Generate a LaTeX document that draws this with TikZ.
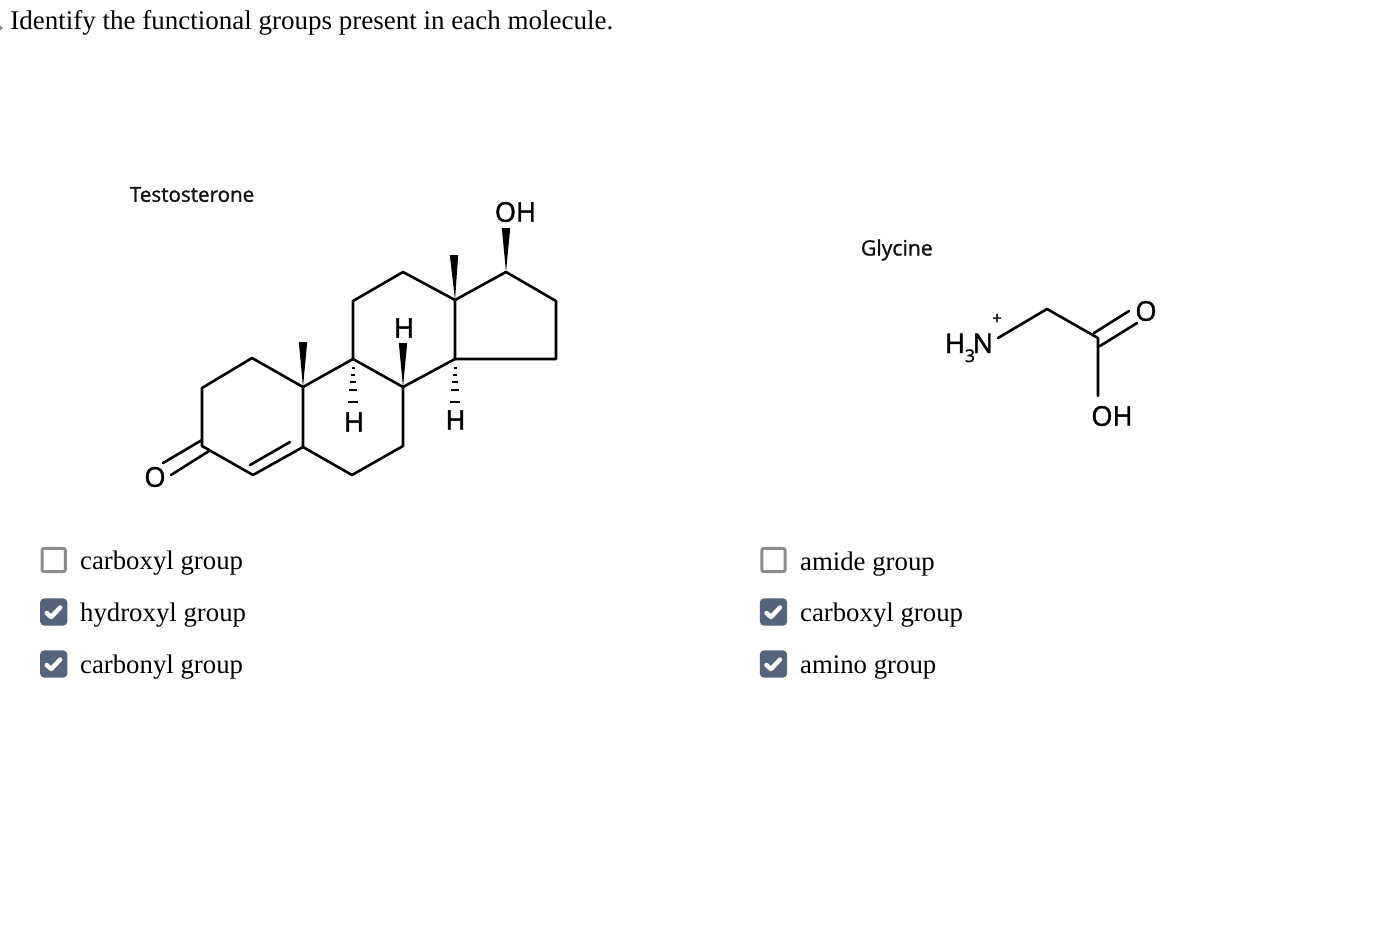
\documentclass[tikz,border=0pt]{standalone}
\usepackage{fontspec}
\setmainfont{Liberation Serif}
\newfontfamily\chem[FakeBold=1.6]{Open Sans}
\newfontfamily\chemname[FakeBold=1.2]{Open Sans}
\definecolor{boxblue}{HTML}{56647B}
\definecolor{boxgray}{HTML}{8C8C8C}
\definecolor{ink}{HTML}{111111}
\tikzset{
  x=0.5pt,y=-0.5pt,
  bond/.style={line width=1.3pt,line cap=round,line join=round,draw=black},
  wedge/.style={fill=black,draw=none},
  hash/.style={line width=1.3pt,draw=black},
  atom/.style={font=\chem\fontsize{13.6}{13.6}\selectfont,inner sep=0pt,text=black},
  molname/.style={inner sep=0pt,text=ink,anchor=west},
  choice/.style={font=\fontsize{13.4}{13.4}\selectfont,inner sep=0pt,anchor=base west,text=black},
  emptybox/.style={draw=boxgray,fill=white,line width=1.5pt,rounded corners=1pt,minimum size=11.6pt,inner sep=0pt},
  fullbox/.style={draw=none,fill=boxblue,rounded corners=2pt,minimum size=13.6pt,inner sep=0pt},
  tick/.style={draw=white,line width=2.2pt,line cap=round,line join=round},
}
\newcommand{\tickin}[1]{\draw[tick] ([shift={(-7,1)}]#1.center) -- ([shift={(-2.5,5)}]#1.center) -- ([shift={(6.5,-4.5)}]#1.center);}
\begin{document}
\begin{tikzpicture}
\useasboundingbox (0,0) rectangle (1382,944);
\fill[white] (0,0) rectangle (1382,944);
\fill[boxgray] (0,25.5) -- (3,28) -- (0,30.5) -- cycle;
\node[inner sep=0pt,anchor=base west,font=\fontsize{13.5}{13.5}\selectfont] (title) at (10,29) {Identify the functional groups present in each molecule.};

% Testosterone
\node[molname,font=\chemname\fontsize{10.3}{10.3}\selectfont] (tname) at (129.5,194.5) {Testosterone};
\foreach \n/\x/\y in {a/202/388,b/252/358,c/303/387,d/303/447,e/253/475,f/202/446,g/353/359,h/403/387,i/403/446,j/352/475,k/353/301,l/403/272,m/455/300,n/455/359,o/506/272,p/556/301,q/556/359,
  ca/303/342,cb/454/255,cc/403/343,cd/506/228,
  f1/202/440,f2/209/451,o1/163/463,o2/171/475,r1/250/465,r2/290/442}
  \coordinate (\n) at (\x,\y);
\draw[bond] (f) -- (a) -- (b) -- (c) -- (d) -- (e) -- (f);
\draw[bond] (c) -- (g) -- (h) -- (i) -- (j) -- (d);
\draw[bond] (g) -- (k) -- (l) -- (m) -- (n) -- (h);
\draw[bond] (m) -- (o) -- (p) -- (q) -- (n);
\draw[bond] (r1) -- (r2);
\draw[bond] (f1) -- (o1);
\draw[bond] (f2) -- (o2);
\fill[wedge] (c) -- ([xshift=-2.1pt]ca) -- ([xshift=2.1pt]ca) -- cycle;
\fill[wedge] (m) -- ([xshift=-2.1pt]cb) -- ([xshift=2.1pt]cb) -- cycle;
\fill[wedge] (h) -- ([xshift=-2.1pt]cc) -- ([xshift=2.1pt]cc) -- cycle;
\fill[wedge] (o) -- ([xshift=-2.1pt]cd) -- ([xshift=2.1pt]cd) -- cycle;
\node[atom] (oket) at (155,477) {O};
\node[atom] (oh) at (515.5,212) {OH};
\node[atom] (h1) at (404,328) {H};
\node[atom] (h2) at (354,422) {H};
\node[atom] (h3) at (455.5,420) {H};
\foreach \xc/\nm in {353/g,455/n}{
  \foreach \yy/\w in {368/1.5,375/2,382/2.8,390/3.6,402/4.6}{
    \draw[hash] ([shift={(-\w,\yy-359)}]\nm) -- ([shift={(\w,\yy-359)}]\nm);
  }
}

% Glycine
\node[molname,font=\chemname\fontsize{10.6}{10.6}\selectfont] (gname) at (860.5,250) {Glycine};
\foreach \n/\x/\y in {s/998/338,t/1047/309,u/1098/338,v/1098/396,u1/1094/333,u2/1100/346,w1/1129/311,w2/1137/323}
  \coordinate (\n) at (\x,\y);
\draw[bond] (s) -- (t) -- (u) -- (v);
\draw[bond] (u1) -- (w1);
\draw[bond] (u2) -- (w2);
\node[atom] (ogl) at (1146,311) {O};
\node[atom] (ohg) at (1112,416) {OH};
\node[atom,anchor=base west] (nh) at (944.5,353) {H\raisebox{-4.5pt}{\fontsize{8.8}{8.8}\selectfont 3}\kern-1.2pt N};
\node[atom,font=\chem\fontsize{8.5}{8.5}\selectfont] (plus) at (997,319) {+};

% Choices left
\node[emptybox] (b1) at (53.7,560) {};
\node[fullbox] (b2) at (53.7,612) {};
\node[fullbox] (b3) at (53.7,664) {};
\tickin{b2}\tickin{b3}
\node[choice] (t1) at (79.7,569.5) {carboxyl group};
\node[choice] (t2) at (79.7,621.5) {hydroxyl group};
\node[choice] (t3) at (79.7,673.5) {carbonyl group};

% Choices right
\node[emptybox] (b4) at (773.5,560) {};
\node[fullbox] (b5) at (773.5,612) {};
\node[fullbox] (b6) at (773.5,664) {};
\tickin{b5}\tickin{b6}
\node[choice] (t4) at (799.7,570.5) {amide group};
\node[choice] (t5) at (799.7,621.5) {carboxyl group};
\node[choice] (t6) at (799.7,673.5) {amino group};
\end{tikzpicture}
\end{document}
